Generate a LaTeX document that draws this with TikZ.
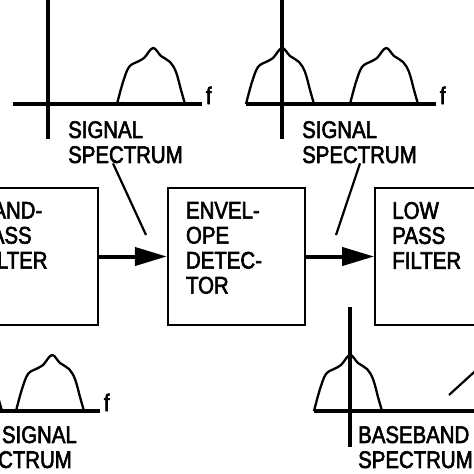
\documentclass[tikz,border=0pt]{standalone}
\usepackage{fontspec}
\setmainfont[FakeStretch=0.85,FakeBold=2.5]{Liberation Sans}
\usetikzlibrary{arrows.meta,positioning}

\tikzset{
  block/.style={draw, line width=2.3pt, minimum width=137pt, minimum height=137pt, inner sep=0pt},
  caption/.style={inner sep=0pt, align=left, font=\fontsize{24}{25}\selectfont},
  axis/.style={line width=3.8pt},
  curve/.style={line width=2.3pt, line join=round},
  flow/.style={line width=4pt, -{Triangle[length=32pt,width=18pt]}},
  lead/.style={line width=2.2pt}
}

\begin{document}
\begin{tikzpicture}[x=1pt,y=-1pt]
  \useasboundingbox (0,0) rectangle (474,474);
  \clip (0,0) rectangle (474,474);

  % blocks
  \node[block] (det) at (236.5,256.5) {};
  \node[block, left=68pt of det] (bpf) {};
  \node[block, right=68pt of det] (lpf) {};
  \node[caption, below right=15pt and 19pt of bpf.north west] (bpftxt) {BAND-\\PASS\\FILTER};
  \node[caption, below right=15pt and 19pt of det.north west] (dettxt) {ENVEL-\\OPE\\DETEC-\\TOR};
  \node[caption, below right=15pt and 18pt of lpf.north west] (lpftxt) {LOW\\PASS\\FILTER};
  \draw[flow] (bpf) -- (det);
  \draw[flow] (det) -- (lpf);

  % axes
  \draw[axis] (48,-5) -- (48,139);
  \draw[axis] (13,104) -- (202,104) node[caption, anchor=base west, xshift=2pt] (f1) {f};
  \draw[axis] (282,-5) -- (282,139);
  \draw[axis] (246,104) -- (436,104) node[caption, anchor=base west, xshift=2pt] (f2) {f};
  \draw[axis] (-5,411) -- (100,411) node[caption, anchor=base west, xshift=2pt] (f3) {f};
  \draw[axis] (350,307) -- (350,447);
  \draw[axis] (314,411) -- (480,411);

  % spectra
  \foreach \px/\py in {153/104, 282/104, 386/104, -30/411, 52/411, 350/411}
    \draw[curve, shift={(\px,\py)}] plot[smooth, tension=.6] coordinates
      {(-36,0) (-30,-22) (-24,-37) (-16,-42) (-9,-46) (0,-56) (8,-48) (17,-42) (23,-32) (28,-14) (32,0)};

  % captions
  \node[caption, anchor=north west] (sig1) at (68,121) {SIGNAL\\SPECTRUM};
  \node[caption, anchor=north west] (sig2) at (302,121) {SIGNAL\\SPECTRUM};
  \node[caption, align=right, anchor=north east] (sig3) at (77,426) {SIGNAL\\SPECTRUM\hspace*{5pt}};
  \node[caption, anchor=north west] (base) at (358,426) {BASEBAND\\SPECTRUM};

  % leaders
  \coordinate (in1) at (146,235);
  \coordinate (in2) at (336,235);
  \coordinate (from3) at (449,395);
  \coordinate (to3) at (495,353);
  \draw[lead] ([xshift=45pt]sig1.south west) -- (in1);
  \draw[lead] ([xshift=58pt]sig2.south west) -- (in2);
  \draw[lead] (from3) -- (to3);
\end{tikzpicture}
\end{document}
